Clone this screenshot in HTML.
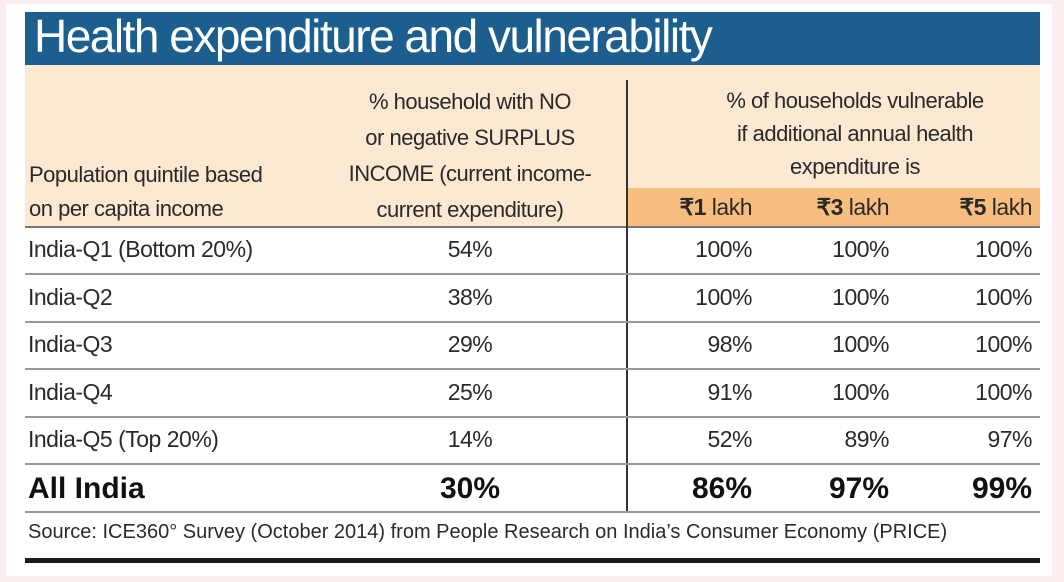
<!DOCTYPE html>
<html><head><meta charset="utf-8"><style>
body{margin:0;width:1064px;height:582px;background:#fbeeee;font-family:"Liberation Sans",sans-serif;color:#2a2a2a;position:relative;overflow:hidden}
.panel{position:absolute;left:6px;top:4px;width:1046px;height:572px;background:#fff}
.a{position:absolute;white-space:nowrap}
.t{font-size:23px;letter-spacing:-0.5px}
.r{text-align:right;width:200px}
.c{text-align:center;width:320px}
.sep{position:absolute;left:25px;width:1015px;height:2px;background:#9a9a9a}
.b{font-weight:bold;font-size:30px;color:#111}
</style></head><body>
<div class="panel"></div>
<div class="a" style="left:25px;top:12px;width:1015px;height:53px;background:#1c5e8d"></div>
<div class="a" style="left:34px;top:9px;font-size:46px;color:#fff;letter-spacing:-1.5px">Health expenditure and vulnerability</div>
<div class="a" style="left:25px;top:65px;width:1015px;height:162px;background:#fde8d2"></div>
<div class="a" style="left:628px;top:188px;width:412px;height:39px;background:#f8be7f"></div>
<div class="sep" style="top:226px;background:#777"></div>
<div class="a" style="left:626px;top:80px;width:2px;height:432px;background:#333"></div>

<div class="a t" style="left:29px;top:158px;line-height:34px;font-size:22px">Population quintile based<br>on per capita income</div>
<div class="a t c" style="left:310px;top:84px;line-height:36px;font-size:22px">% household with NO<br>or negative SURPLUS<br>INCOME (current income-<br>current expenditure)</div>
<div class="a t c" style="left:675px;top:84px;width:360px;line-height:33px;font-size:22px">% of households vulnerable<br>if additional annual health<br>expenditure is</div>
<div class="a t r" style="left:552px;top:194px"><b>₹1</b> lakh</div>
<div class="a t r" style="left:689px;top:194px"><b>₹3</b> lakh</div>
<div class="a t r" style="left:832px;top:194px"><b>₹5</b> lakh</div>

<div id="rows"></div>
<div class="a" style="left:28px;top:521px;font-size:20px;letter-spacing:0">Source: ICE360° Survey (October 2014) from People Research on India’s Consumer Economy (PRICE)</div>
<div class="a" style="left:25px;top:558px;width:1015px;height:5px;background:#1a1a1a"></div>
<script>
const labels=["India-Q1 (Bottom 20%)","India-Q2","India-Q3","India-Q4","India-Q5 (Top 20%)","All India"];
const surplus=["54%","38%","29%","25%","14%","30%"];
const v1=["100%","100%","98%","91%","52%","86%"];
const v3=["100%","100%","100%","100%","89%","97%"];
const v5=["100%","100%","100%","100%","97%","99%"];
const root=document.getElementById('rows');
labels.forEach((l,i)=>{
  const top=236+i*47.5, last=i===labels.length-1;
  const mk=(txt,left,cls,name)=>{
    const d=document.createElement('div');
    d.className='a '+(last?'b ':'t ')+cls;
    d.style.left=left+'px';d.style.top=(last?top-2:top)+'px';
    d.textContent=txt;
    
    
    root.appendChild(d);
  };
  mk(l,28,'','row-label');
  mk(surplus[i],310,'c','surplus-value');
  mk(v1[i],552,'r','value-1-lakh');
  mk(v3[i],689,'r','value-3-lakh');
  mk(v5[i],832,'r','value-5-lakh');
  const s=document.createElement('div');
  s.className='sep';s.style.top=(top+37)+'px';
  
  
  root.appendChild(s);
});
</script>
</body></html>
